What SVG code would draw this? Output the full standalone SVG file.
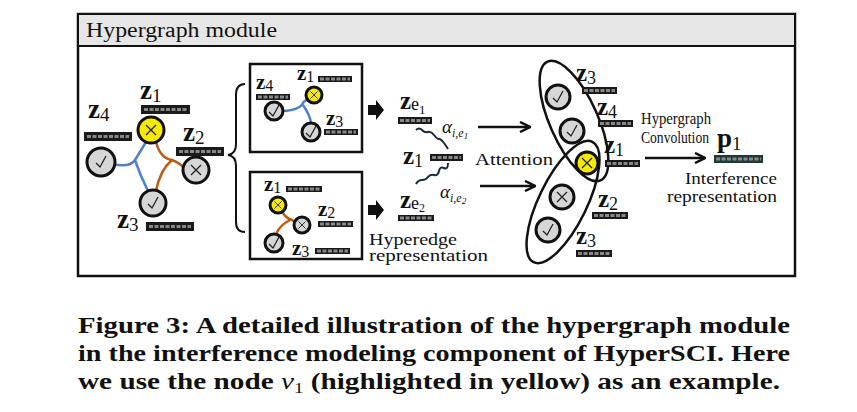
<svg xmlns="http://www.w3.org/2000/svg" width="857" height="412" viewBox="0 0 857 412">
<defs>
<style>
.t{font-family:"Liberation Serif",serif;fill:#111}
.z{font-family:"Liberation Serif",serif;font-weight:bold;fill:#111}
.cap{font-family:"Liberation Serif",serif;font-weight:bold;font-size:23px;fill:#111}
.bar{fill:#1a1a1a}
.dash{stroke:#888;stroke-width:3;stroke-dasharray:4 1.5}
.n{fill:#d6d6d6;stroke:#111;stroke-width:3}
.y{fill:#f5ea00;stroke:#111;stroke-width:3}
.mk{fill:none;stroke:#222;stroke-width:1.3}
.blue{fill:none;stroke:#4f80c8;stroke-width:2.5}
.orng{fill:none;stroke:#c05a12;stroke-width:2.5}
.ar{stroke:#111;stroke-width:2.5;fill:none}
.wv{fill:none;stroke:#1b2a3a;stroke-width:2}
.ell{fill:none;stroke:#111;stroke-width:2.5}
</style>
<marker id="ah" viewBox="0 0 10 10" refX="9" refY="5" markerWidth="5" markerHeight="5" orient="auto"><path d="M1,1 L9,5 L1,9" fill="none" stroke="#111" stroke-width="2"/></marker>
<g id="chk"><path class="mk" d="M-5,1 L-1,5 L5,-6"/></g>
<g id="crs"><path class="mk" d="M-5,-5 L5,5 M-5,5 L5,-5"/></g>
</defs>
<rect x="0" y="0" width="857" height="412" fill="#fff"/>
<g id="frame">
<rect x="78" y="14" width="717" height="262" fill="#fff" stroke="#111" stroke-width="2.5"/>
<rect x="79" y="15" width="715" height="31" fill="#e6e6e6"/>
<line x1="78" y1="46" x2="795" y2="46" stroke="#111" stroke-width="2"/>
<text class="t" x="86" y="37" font-size="20" textLength="191" lengthAdjust="spacingAndGlyphs">Hypergraph module</text>
</g>
<g id="connectors">
<path class="blue" d="M112,164 Q130,168 135,160 Q140,152 146,142 M135,160 Q140,175 148,191"/>
<path class="orng" d="M156,142 Q160,158 172,160 Q180,163 184,168 M172,160 Q160,170 156,191"/>
<path class="blue" d="M283,111 Q300,110 303,103 Q306,98 310,102 M303,105 Q310,115 311,123"/>
<path class="orng" d="M280,207 Q284,218 292,220 L295,222 M290,220 Q280,225 276,234"/>
<path d="M245,84 Q236,84 236,95 L236,144 Q236,154 228,155 Q236,156 236,166 L236,222 Q236,232 245,232" fill="none" stroke="#111" stroke-width="2"/>
<path d="M368,105 L376,105 L376,100 L384,110 L376,120 L376,115 L368,115 Z" fill="#111"/>
<path d="M368,205 L376,205 L376,200 L384,210 L376,220 L376,215 L368,215 Z" fill="#111"/>
<path class="wv" d="M416,130 q3,-3 6,0 t6,2 t6,3 t5,4 t5,4 t4,6"/>
<path class="wv" d="M416,184 q2,-4 6,-4 t6,-3 t6,-2 t5,-4 t5,-3 t4,-5"/>
<line class="ar" x1="478" y1="127" x2="530" y2="127" marker-end="url(#ah)"/>
<line class="ar" x1="480" y1="186" x2="535" y2="186" marker-end="url(#ah)"/>
<line class="ar" x1="645" y1="158" x2="705" y2="158" marker-end="url(#ah)"/>
<ellipse class="ell" cx="574" cy="121" rx="24" ry="65" transform="rotate(-24 574 121)"/>
<ellipse class="ell" cx="563" cy="202" rx="24" ry="67" transform="rotate(26 563 202)"/>
</g>
<g id="left-graph">
<circle class="y" cx="151" cy="130" r="13"/><use href="#crs" x="151" y="130"/>
<circle class="n" cx="101" cy="162" r="14"/><use href="#chk" x="101" y="162"/>
<circle class="n" cx="196" cy="170" r="13"/><use href="#crs" x="196" y="170"/>
<circle class="n" cx="153" cy="203" r="13"/><use href="#chk" x="153" y="203"/>
<text class="z" x="140" y="99" font-size="27">z<tspan font-weight="normal" font-size="19" dy="3">1</tspan></text>
<rect class="bar" x="141" y="105" width="49" height="9"/><line class="dash" x1="144" y1="109.5" x2="187" y2="109.5"/>
<text class="z" x="88" y="118" font-size="27">z<tspan font-weight="normal" font-size="19" dy="3">4</tspan></text>
<rect class="bar" x="84" y="132" width="48" height="9"/><line class="dash" x1="87" y1="136.5" x2="129" y2="136.5"/>
<text class="z" x="183" y="141" font-size="27">z<tspan font-weight="normal" font-size="19" dy="3">2</tspan></text>
<rect class="bar" x="176" y="147" width="48" height="9"/><line class="dash" x1="179" y1="151.5" x2="221" y2="151.5"/>
<text class="z" x="117" y="228" font-size="27">z<tspan font-weight="normal" font-size="19" dy="3">3</tspan></text>
<rect class="bar" x="146" y="222" width="48" height="9"/><line class="dash" x1="149" y1="226.5" x2="191" y2="226.5"/>
</g>
<g id="box-e1">
<rect x="250" y="64" width="112" height="88" fill="none" stroke="#111" stroke-width="2.5"/>
<text class="z" x="256" y="89" font-size="21">z<tspan font-weight="normal" font-size="16" dy="2">4</tspan></text>
<rect class="bar" x="256" y="94" width="34" height="6"/><line class="dash" x1="258" y1="97" x2="288" y2="97" stroke-width="1.5"/>
<text class="z" x="297" y="80" font-size="21">z<tspan font-weight="normal" font-size="16" dy="2">1</tspan></text>
<rect class="bar" x="318" y="76" width="34" height="6"/><line class="dash" x1="320" y1="79" x2="350" y2="79" stroke-width="1.5"/>
<circle class="y" cx="314" cy="95" r="8"/><use href="#crs" transform="translate(314 95) scale(0.7)"/>
<circle class="n" cx="274" cy="111" r="9"/><use href="#chk" x="274" y="111"/>
<circle class="n" cx="311" cy="132" r="9"/><use href="#chk" x="311" y="132"/>
<text class="z" x="326" y="125" font-size="21">z<tspan font-weight="normal" font-size="16" dy="2">3</tspan></text>
<rect class="bar" x="324" y="129" width="34" height="6"/><line class="dash" x1="326" y1="132" x2="356" y2="132" stroke-width="1.5"/>
</g>
<g id="box-e2">
<rect x="250" y="172" width="112" height="87" fill="none" stroke="#111" stroke-width="2.5"/>
<text class="z" x="264" y="191" font-size="21">z<tspan font-weight="normal" font-size="16" dy="2">1</tspan></text>
<rect class="bar" x="286" y="186" width="36" height="6"/><line class="dash" x1="288" y1="189" x2="320" y2="189" stroke-width="1.5"/>
<circle class="y" cx="278" cy="205" r="8"/><use href="#crs" transform="translate(278 205) scale(0.7)"/>
<circle class="n" cx="302" cy="225" r="8"/><use href="#crs" transform="translate(302 225) scale(0.7)"/>
<circle class="n" cx="274" cy="243" r="9"/><use href="#chk" x="274" y="243"/>
<text class="z" x="318" y="216" font-size="21">z<tspan font-weight="normal" font-size="16" dy="2">2</tspan></text>
<rect class="bar" x="318" y="221" width="35" height="6"/><line class="dash" x1="320" y1="224" x2="351" y2="224" stroke-width="1.5"/>
<text class="z" x="292" y="255" font-size="21">z<tspan font-weight="normal" font-size="16" dy="2">3</tspan></text>
<rect class="bar" x="315" y="248" width="35" height="6"/><line class="dash" x1="317" y1="251" x2="348" y2="251" stroke-width="1.5"/>
</g>
<g id="hyperedges">
<text class="z" x="400" y="109" font-size="25">z<tspan font-weight="normal" font-size="18" dy="1">e</tspan><tspan font-weight="normal" font-size="13" dy="4">1</tspan></text>
<rect class="bar" x="398" y="117" width="34" height="7"/><line class="dash" x1="400" y1="120.5" x2="430" y2="120.5" stroke="#9cc0ee" stroke-width="2"/>
<text class="t" x="442" y="133" font-size="19" font-style="italic">α<tspan font-size="12" dy="4">i,e</tspan><tspan font-size="9" dy="2">1</tspan></text>
<text class="z" x="403" y="164" font-size="25">z<tspan font-weight="normal" font-size="18" dy="3">1</tspan></text>
<rect class="bar" x="430" y="154" width="33" height="7"/><line class="dash" x1="432" y1="157.5" x2="461" y2="157.5" stroke-width="2"/>
<text class="t" x="440" y="198" font-size="19" font-style="italic">α<tspan font-size="12" dy="4">i,e</tspan><tspan font-size="9" dy="2">2</tspan></text>
<text class="z" x="400" y="208" font-size="25">z<tspan font-weight="normal" font-size="18" dy="1">e</tspan><tspan font-weight="normal" font-size="12" dy="3">2</tspan></text>
<rect class="bar" x="398" y="215" width="36" height="6"/><line class="dash" x1="400" y1="218" x2="432" y2="218" stroke="#e07a2a" stroke-width="2"/>
<text class="t" x="369" y="245" font-size="16" textLength="88" lengthAdjust="spacingAndGlyphs">Hyperedge</text>
<text class="t" x="369" y="261" font-size="16" textLength="119" lengthAdjust="spacingAndGlyphs">representation</text>
<text class="t" x="475" y="165" font-size="17" textLength="78" lengthAdjust="spacingAndGlyphs">Attention</text>
</g>
<g id="conv-nodes">
<circle class="n" cx="558" cy="97" r="12"/><use href="#chk" x="558" y="97"/>
<circle class="n" cx="572" cy="131" r="12"/><use href="#chk" x="572" y="131"/>
<circle class="y" cx="587" cy="163" r="11"/><use href="#crs" x="587" y="163"/>
<circle class="n" cx="562" cy="197" r="12"/><use href="#crs" x="562" y="197"/>
<circle class="n" cx="548" cy="230" r="12"/><use href="#chk" x="548" y="230"/>
<text class="z" x="576" y="81" font-size="25">z<tspan font-weight="normal" font-size="18" dy="3">3</tspan></text>
<rect class="bar" x="582" y="87" width="35" height="7"/><line class="dash" x1="584" y1="90.5" x2="615" y2="90.5" stroke-width="2"/>
<text class="z" x="597" y="115" font-size="25">z<tspan font-weight="normal" font-size="18" dy="3">4</tspan></text>
<rect class="bar" x="598" y="120" width="35" height="7"/><line class="dash" x1="600" y1="123.5" x2="631" y2="123.5" stroke-width="2"/>
<text class="z" x="604" y="153" font-size="25">z<tspan font-weight="normal" font-size="18" dy="3">1</tspan></text>
<rect class="bar" x="605" y="160" width="35" height="7"/><line class="dash" x1="607" y1="163.5" x2="638" y2="163.5" stroke-width="2"/>
<text class="z" x="598" y="207" font-size="25">z<tspan font-weight="normal" font-size="18" dy="3">2</tspan></text>
<rect class="bar" x="592" y="212" width="36" height="7"/><line class="dash" x1="594" y1="215.5" x2="626" y2="215.5" stroke-width="2"/>
<text class="z" x="576" y="244" font-size="25">z<tspan font-weight="normal" font-size="18" dy="3">3</tspan></text>
<rect class="bar" x="576" y="250" width="36" height="7"/><line class="dash" x1="578" y1="253.5" x2="610" y2="253.5" stroke-width="2"/>
</g>
<g id="output">
<text class="t" x="641" y="124" font-size="16" textLength="70" lengthAdjust="spacingAndGlyphs">Hypergraph</text>
<text class="t" x="641" y="143" font-size="16" textLength="68" lengthAdjust="spacingAndGlyphs">Convolution</text>
<text class="z" x="717" y="147" font-size="27">p<tspan font-weight="normal" font-size="19" dy="3">1</tspan></text>
<rect x="714" y="155" width="49" height="8" fill="#1f3a36"/><line class="dash" x1="716" y1="159" x2="761" y2="159" stroke="#5fbfa8" stroke-width="2.5"/>
<text class="t" x="777" y="184" font-size="16" text-anchor="end" textLength="92" lengthAdjust="spacingAndGlyphs">Interference</text>
<text class="t" x="777" y="202" font-size="16" text-anchor="end" textLength="110" lengthAdjust="spacingAndGlyphs">representation</text>
</g>
<g id="caption">
<text class="cap" x="78" y="333" textLength="712" lengthAdjust="spacingAndGlyphs">Figure 3: A detailed illustration of the hypergraph module</text>
<text class="cap" x="78" y="361" textLength="712" lengthAdjust="spacingAndGlyphs">in the interference modeling component of HyperSCI. Here</text>
<text class="cap" x="78" y="389" textLength="702" lengthAdjust="spacingAndGlyphs">we use the node <tspan font-weight="normal" font-style="italic">v</tspan><tspan font-weight="normal" font-size="15" dy="4">1</tspan><tspan dy="-4"> (highlighted in yellow) as an example.</tspan></text>
</g>
</svg>
